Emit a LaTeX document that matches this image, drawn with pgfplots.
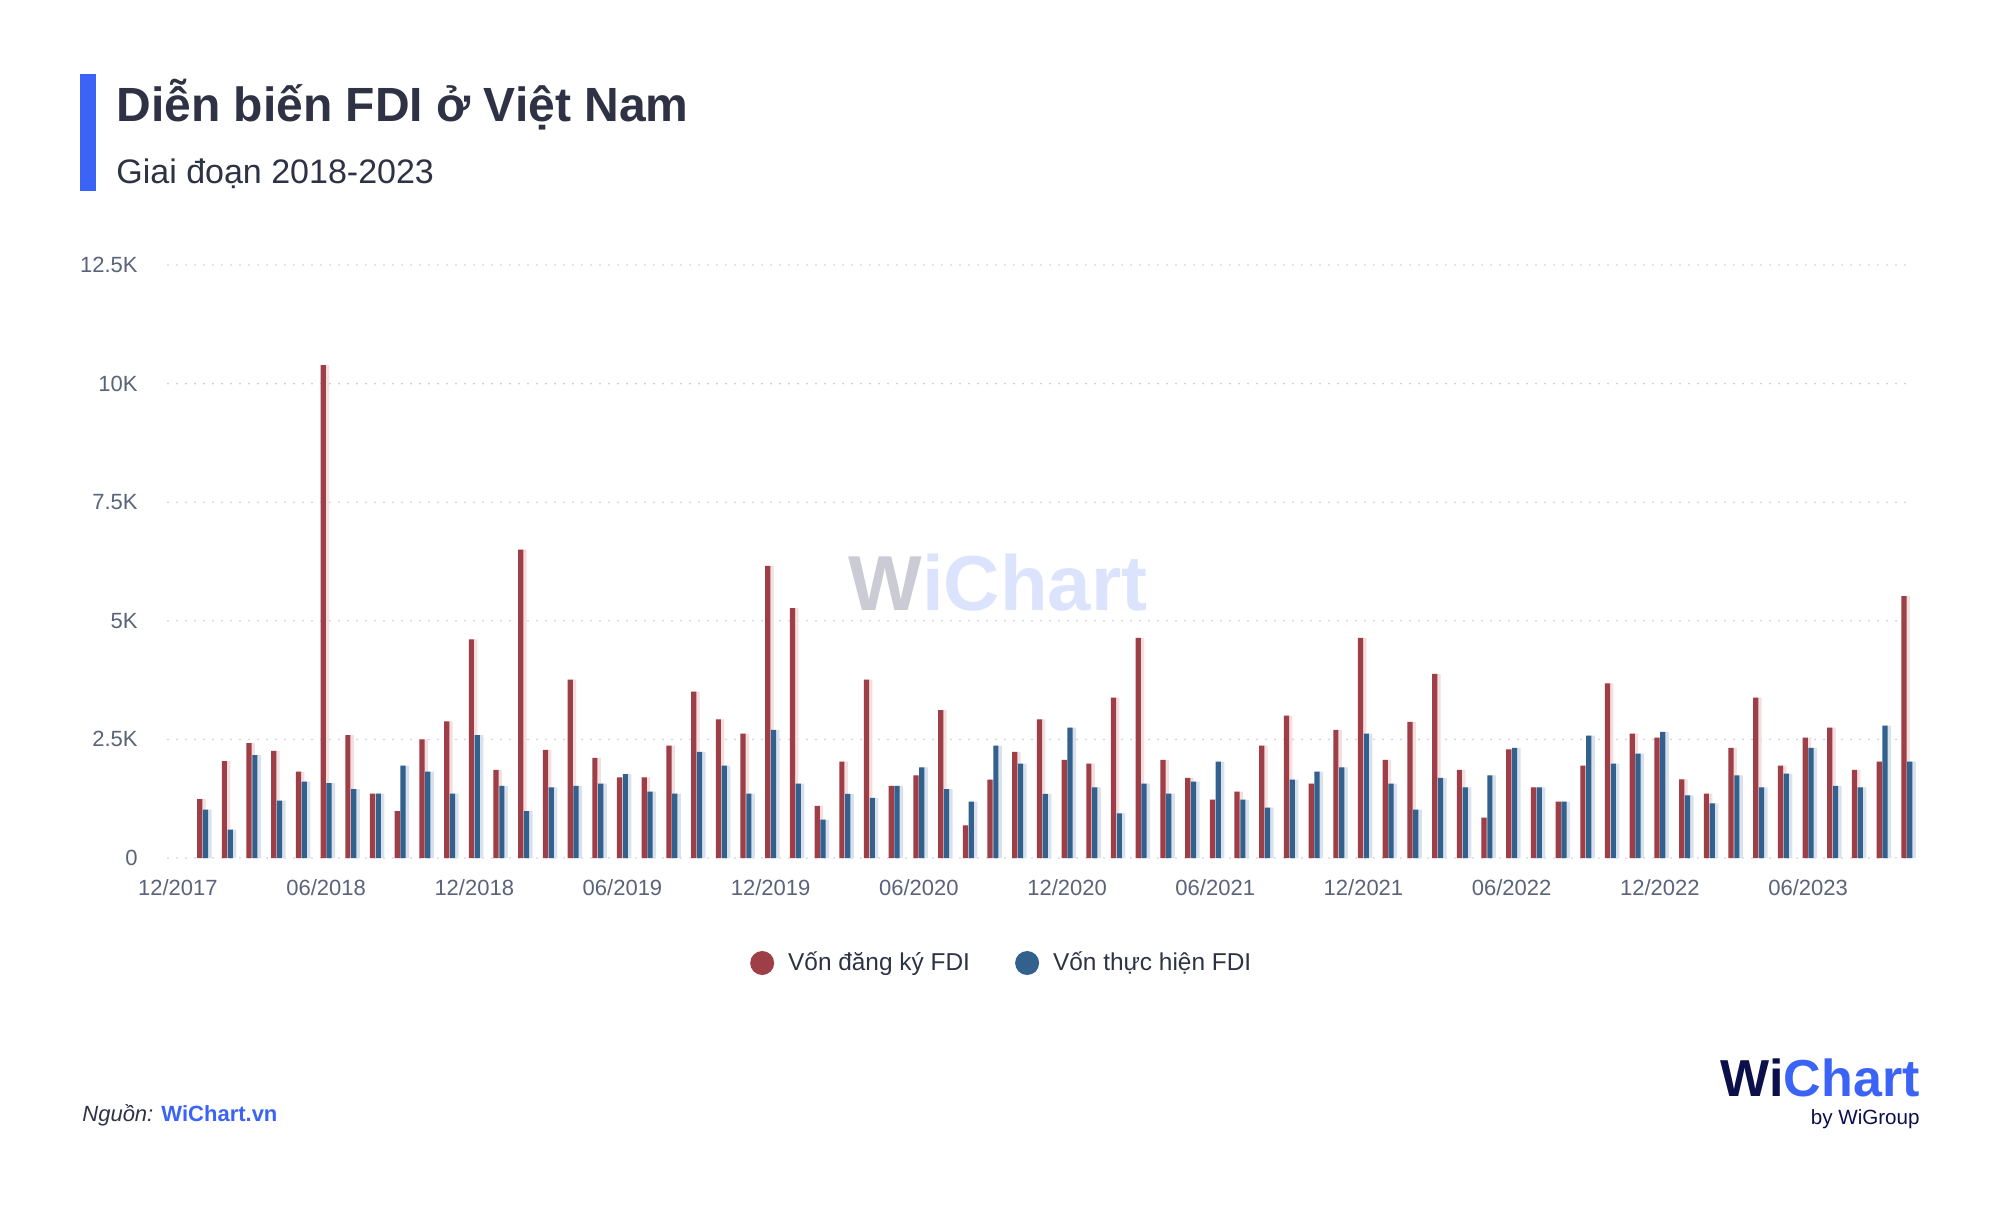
\documentclass[border=0pt]{standalone}
\usepackage{pgfplots}
\pgfplotsset{compat=1.18}
\usepackage{pgfplotstable}
\usepackage{fontspec}
\setmainfont{Liberation Sans}
\definecolor{regc}{HTML}{9E3F47}
\definecolor{impc}{HTML}{33618D}
\definecolor{regsh}{HTML}{F3DEE0}
\definecolor{impsh}{HTML}{D9E2EC}
\definecolor{titlec}{HTML}{2E3244}
\definecolor{tickc}{HTML}{5A6378}
\definecolor{gridc}{HTML}{C4C9D4}
\definecolor{accent}{HTML}{3B63F6}
\definecolor{navy}{HTML}{0B0F4A}
\definecolor{wmgray}{HTML}{CBCBD6}
\definecolor{wmblue}{HTML}{DCE3FC}

\pgfplotstableread{
m reg imp
1 1240 1020
2 2040 600
3 2420 2170
4 2260 1210
5 1820 1610
6 10390 1580
7 2590 1450
8 1360 1360
9 990 1950
10 2500 1820
11 2880 1360
12 4610 2590
13 1860 1520
14 6500 990
15 2280 1490
16 3760 1520
17 2110 1570
18 1700 1770
19 1700 1400
20 2370 1360
21 3510 2240
22 2920 1950
23 2620 1360
24 6160 2700
25 5270 1570
26 1100 810
27 2030 1350
28 3760 1270
29 1520 1520
30 1740 1910
31 3120 1450
32 690 1190
33 1650 2370
34 2240 1990
35 2920 1350
36 2070 2750
37 1990 1490
38 3380 940
39 4640 1570
40 2070 1360
41 1690 1610
42 1230 2030
43 1400 1230
44 2370 1060
45 3000 1650
46 1570 1820
47 2700 1910
48 4640 2620
49 2070 1570
50 2870 1020
51 3880 1690
52 1860 1490
53 850 1740
54 2290 2320
55 1490 1490
56 1190 1190
57 1950 2580
58 3680 1990
59 2620 2200
60 2540 2660
61 1660 1320
62 1360 1150
63 2320 1740
64 3380 1490
65 1950 1780
66 2540 2320
67 2750 1520
68 1860 1490
69 2030 2790
70 5520 2030
}\fdidata

\begin{document}
\begin{tikzpicture}
\fill[white] (0pt,0pt) rectangle (1000pt,-608.5pt);
% header
\fill[accent] (40pt,-37pt) rectangle (48pt,-95.5pt);
\node[anchor=base west, inner sep=0pt, text=titlec, font=\bfseries\fontsize{24}{28}\selectfont] at (58pt,-60.5pt) {Diễn biến FDI ở Việt Nam};
\node[anchor=base west, inner sep=0pt, text=titlec, font=\fontsize{17}{20}\selectfont] at (58pt,-91.5pt) {Giai đoạn 2018-2023};
% watermark
\node[anchor=base west, inner sep=0pt, font=\bfseries\fontsize{39}{44}\selectfont] at (424pt,-305pt) {\textcolor{wmgray}{W}\textcolor{wmblue}{iChart}};
\begin{axis}[
  at={(84pt,-429pt)}, anchor=south west,
  width=872.5pt, height=296.5pt, scale only axis,
  xmin=-0.4, xmax=70.25, ymin=0, ymax=12500,
  scaled y ticks=false,
  axis line style={draw=none},
  ytick={0,2500,5000,7500,10000,12500},
  yticklabels={0,2.5K,5K,7.5K,10K,12.5K},
  xtick={0,6,...,66},
  xticklabels={12/2017,06/2018,12/2018,06/2019,12/2019,06/2020,12/2020,06/2021,12/2021,06/2022,12/2022,06/2023},
  major tick length=0pt,
  xtick style={draw=none}, ytick style={draw=none},
  ymajorgrids,
  grid style={gridc, line width=0.9pt, line cap=round, dash pattern=on 0pt off 4.5pt},
  tick label style={font=\fontsize{11}{13}\selectfont, text=tickc},
  yticklabel style={inner sep=0pt, anchor=east, xshift=-15pt},
  xticklabel style={inner sep=0pt, anchor=center, yshift=-15pt},
  clip=false,
  legend style={at={(axis description cs:0.4812,0)}, anchor=center, yshift=-52.5pt,
    draw=none, fill=none, font=\fontsize{12.2}{14}\selectfont, text=titlec,
    legend columns=2, column sep=0pt,
    /tikz/every even column/.append style={column sep=15.6pt},
    nodes={inner xsep=7pt}},
  legend cell align=left,
]
\addplot[ybar, bar width=4pt, bar shift=-0.5pt, fill=regsh, draw=none, forget plot] table[x=m,y=reg]{\fdidata};
\addplot[ybar, bar width=4pt, bar shift=2.5pt, fill=impsh, draw=none, forget plot] table[x=m,y=imp]{\fdidata};
\addplot[ybar, bar width=2.6pt, bar shift=-1.45pt, fill=regc, draw=none,
  legend image code/.code={\fill[regc] (0pt,0pt) circle (6pt);}] table[x=m,y=reg]{\fdidata};
\addlegendentry{Vốn đăng ký FDI}
\addplot[ybar, bar width=2.6pt, bar shift=1.45pt, fill=impc, draw=none,
  legend image code/.code={\fill[impc] (0pt,0pt) circle (6pt);}] table[x=m,y=imp]{\fdidata};
\addlegendentry{Vốn thực hiện FDI}
\end{axis}
% source
\node[anchor=base west, inner sep=0pt, text=titlec, font=\fontsize{11}{13}\selectfont] at (41pt,-560.5pt) {\textit{Nguồn:} \textbf{\textcolor{accent}{WiChart.vn}}};
% logo
\node[anchor=base east, inner sep=0pt, font=\bfseries\fontsize{26}{30}\selectfont] at (960pt,-548pt) {\textcolor{navy}{Wi}\textcolor{accent}{Chart}};
\node[anchor=base east, inner sep=0pt, text=navy, font=\fontsize{10.3}{12}\selectfont] at (960pt,-562pt) {by WiGroup};
\end{tikzpicture}
\end{document}
